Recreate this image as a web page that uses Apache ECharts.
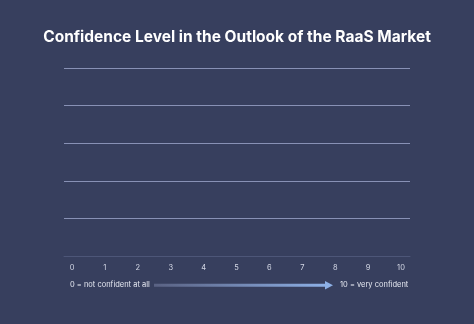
<!DOCTYPE html>
<html><head><meta charset="utf-8">
<script src="https://cdn.jsdelivr.net/npm/echarts@6/dist/echarts.min.js"></script>
<style>html,body{margin:0;padding:0;background:#373f5e;}#c{width:474px;height:324px;}</style>
</head><body><div id="c"></div>
<script>
const categories = ['0','1','2','3','4','5','6','7','8','9','10'];
const seriesValues = [0,0,0,0,0,0,0,0,0,0,0];
const yTicks = [0,1,2,3,4,5];
const titleText = 'Confidence Level in the Outlook of the RaaS Market';
const legendLeft = '0 = not confident at all';
const legendRight = '10 = very confident';

const chart = echarts.init(document.getElementById('c'), null, {renderer:'canvas'});
chart.setOption({
  backgroundColor: '#373f5e',
  animation: false,
  title: {text: titleText, left: 'center', top: 24,
    textStyle: {color: '#ffffff', fontFamily: 'Inter', fontWeight: 'bold', fontSize: 15.5}},
  grid: [
    {left: 64, right: 64, top: 68, height: 188},
    {left: 72, right: 73, top: 68, height: 188}
  ],
  xAxis: [
    {gridIndex: 0, type: 'value', min: 0, max: 1, show: true,
      axisLine: {show: true, lineStyle: {color: '#4d5678', width: 1}},
      axisTick: {show: false}, axisLabel: {show: false}, splitLine: {show: false}},
    {gridIndex: 1, type: 'category', data: categories, boundaryGap: false,
      axisLine: {show: false}, axisTick: {show: false}, splitLine: {show: false},
      axisLabel: {color: '#d4d8e6', fontSize: 7.5, fontFamily: 'Inter', margin: 8}}
  ],
  yAxis: [
    {gridIndex: 0, type: 'value', min: yTicks[0], max: yTicks[yTicks.length-1], interval: 1,
      axisLine: {show: false}, axisTick: {show: false}, axisLabel: {show: false},
      splitLine: {show: true, lineStyle: {color: '#8891b5', width: 1}}},
    {gridIndex: 1, type: 'value', min: 0, max: 5, show: false, splitLine: {show: false}}
  ],
  series: [
    {type: 'bar', xAxisIndex: 1, yAxisIndex: 1, data: seriesValues, itemStyle: {color: '#8fb0e0'}}
  ],
  graphic: [
    {type: 'text', left: 70, top: 281, style: {text: legendLeft, fill: '#e6e9f2', fontSize: 7.5, fontFamily: 'Inter'}},
    {type: 'rect', shape: {x: 154, y: 283.8, width: 172, height: 3},
      style: {fill: new echarts.graphic.LinearGradient(0,0,1,0,[{offset:0,color:'#5a6283'},{offset:1,color:'#8db0e6'}])}},
    {type: 'polygon', shape: {points: [[325,281],[333,285.3],[325,289.6]]}, style: {fill: '#8db0e6'}},
    {type: 'text', left: 340, top: 281, style: {text: legendRight, fill: '#e6e9f2', fontSize: 7.5, fontFamily: 'Inter'}}
  ]
});
</script></body></html>
